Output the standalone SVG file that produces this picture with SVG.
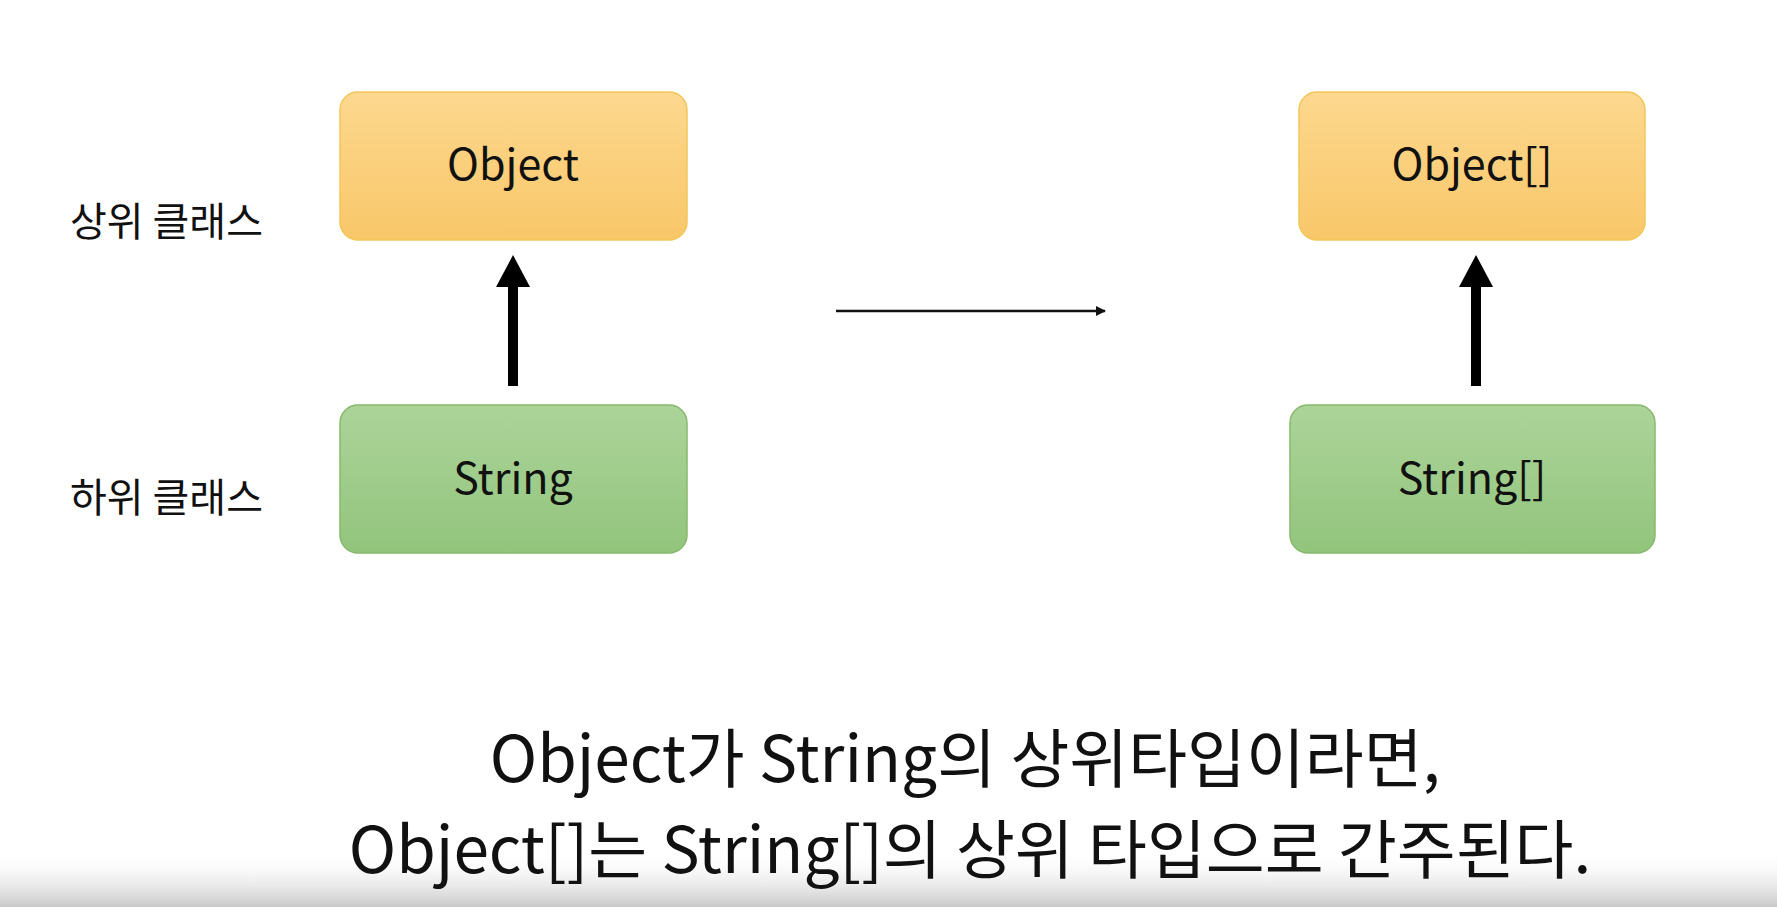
<svg xmlns="http://www.w3.org/2000/svg" width="1777" height="907" viewBox="0 0 1777 907">
<style>
text{font-family:"Noto Sans CJK KR","Noto Sans",sans-serif;fill:#111}
.n{font-size:43px;text-anchor:middle}
.l{font-size:40px}
.b{font-size:64px;text-anchor:middle}
.o{fill:url(#og);stroke:#f2c65a;stroke-width:1.5}
.g{fill:url(#gg);stroke:#86b96c;stroke-width:1.5}
</style>
<defs>
<linearGradient id="og" x1="0" y1="0" x2="0" y2="1"><stop offset="0" stop-color="#fdd88f"/><stop offset="1" stop-color="#f8c769"/></linearGradient>
<linearGradient id="gg" x1="0" y1="0" x2="0" y2="1"><stop offset="0" stop-color="#acd49a"/><stop offset="1" stop-color="#92c47c"/></linearGradient>
<linearGradient id="sh" x1="0" y1="0" x2="0" y2="1"><stop offset="0" stop-color="#fff" stop-opacity="0"/><stop offset="1" stop-color="#c8c8c8"/></linearGradient>
<marker id="m" markerWidth="10" markerHeight="10" refX="9" refY="5" orient="auto" markerUnits="userSpaceOnUse"><path d="M0,0 L10,5 L0,10z" fill="#111"/></marker>
</defs>
<rect width="1777" height="907" fill="#fff"/>
<rect y="850" width="1777" height="57" fill="url(#sh)"/>
<text class="l" x="70" y="236">상위 클래스</text>
<text class="l" x="70" y="512">하위 클래스</text>
<g id="object"><rect class="o" x="340" y="92" width="347" height="148" rx="18"/><text class="n" x="513" y="180">Object</text></g>
<g id="string"><rect class="g" x="340" y="405" width="347" height="148" rx="18"/><text class="n" x="513" y="494">String</text></g>
<g id="objectArr"><rect class="o" x="1299" y="92" width="346" height="148" rx="18"/><text class="n" x="1472" y="180">Object[]</text></g>
<g id="stringArr"><rect class="g" x="1290" y="405" width="365" height="148" rx="18"/><text class="n" x="1472" y="494">String[]</text></g>
<g id="connectors">
<line x1="513" y1="386" x2="513" y2="280" stroke="#000" stroke-width="10"/>
<path d="M496,287 L513,255 L530,287z" fill="#000"/>
<line x1="1476" y1="386" x2="1476" y2="280" stroke="#000" stroke-width="10"/>
<path d="M1459,287 L1476,255 L1493,287z" fill="#000"/>
<line x1="836" y1="311" x2="1105" y2="311" stroke="#111" stroke-width="2.5" marker-end="url(#m)"/>
</g>
<text class="b" x="965" y="782">Object가 String의 상위타입이라면,</text>
<text class="b" x="970" y="873">Object[]는 String[]의 상위 타입으로 간주된다.</text>
</svg>
